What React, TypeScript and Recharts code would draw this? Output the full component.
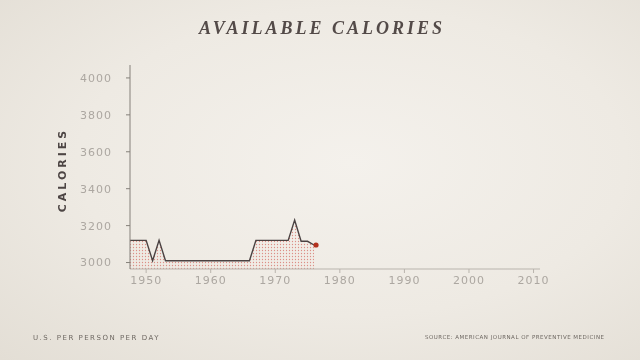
import React from "react";
import { Area, ComposedChart, Line, XAxis, YAxis } from "recharts";

// per-year available calories (animation frame stops mid-1970s)
const years = [
  1947, 1948, 1949, 1950, 1951, 1952, 1953, 1954, 1955, 1956, 1957, 1958, 1959, 1960, 1961,
  1962, 1963, 1964, 1965, 1966, 1967, 1968, 1969, 1970, 1971, 1972, 1973, 1974, 1975, 1976,
];
const calories = [
  3120, 3120, 3120, 3120, 3010, 3120, 3010, 3010, 3010, 3010, 3010, 3010, 3010, 3010, 3010,
  3010, 3010, 3010, 3010, 3010, 3120, 3120, 3120, 3120, 3120, 3120, 3230, 3115, 3115, 3095,
];
const yearTicks = [1950, 1960, 1970, 1980, 1990, 2000, 2010];
const calorieTicks = [3000, 3200, 3400, 3600, 3800, 4000];

const data = years.map((year, i) => ({ year, calories: calories[i] }));

const Y_MIN = 2965;
const Y_MAX = 4070;

const tickStyle = {
  fontSize: 11,
  fill: "#aca7a1",
  fontFamily: "DejaVu Sans",
  letterSpacing: 1,
};

const LastDot = (props: any) => {
  const { cx, cy, index } = props;
  if (index !== data.length - 1) return null;
  return <circle cx={cx + 2} cy={cy} r={2.6} fill="#b3321f" />;
};

export default function App() {
  return (
    <div
      style={{
        position: "fixed",
        left: 0,
        top: 0,
        width: 640,
        height: 360,
        background: "radial-gradient(ellipse at 55% 45%, #f4f1ec 0%, #eeeae3 55%, #e3ded5 100%)",
        overflow: "hidden",
      }}
    >
      <div
        style={{
          position: "absolute",
          top: 18,
          left: 2,
          width: 640,
          textAlign: "center",
          fontFamily: "Liberation Serif",
          fontStyle: "italic",
          fontWeight: "bold",
          fontSize: 18,
          letterSpacing: 3,
          color: "#534a48",
        }}
      >
        AVAILABLE CALORIES
      </div>
      <div
        style={{
          position: "absolute",
          left: 62,
          top: 170,
          transform: "translate(-50%, -50%) rotate(-90deg)",
          fontFamily: "DejaVu Sans",
          fontWeight: "bold",
          fontSize: 11,
          letterSpacing: 3,
          color: "#4d4544",
          whiteSpace: "nowrap",
        }}
      >
        CALORIES
      </div>
      <ComposedChart
        width={640}
        height={360}
        data={data}
        margin={{ top: 65, right: 100, left: 70, bottom: 66 }}
      >
        <defs>
          <pattern id="dots" width="3" height="3" patternUnits="userSpaceOnUse">
            <circle cx="1.5" cy="1.5" r="0.65" fill="#dc8f86" />
          </pattern>
        </defs>
        <XAxis
          dataKey="year"
          type="number"
          domain={[1947.5, 2011]}
          allowDataOverflow
          ticks={yearTicks}
          stroke="#b9b4ad"
          tickSize={4}
          tickMargin={3}
          tick={tickStyle}
          height={25}
        />
        <YAxis
          type="number"
          domain={[Y_MIN, Y_MAX]}
          allowDataOverflow
          ticks={calorieTicks}
          stroke="#85807a"
          tickSize={4}
          tickMargin={14}
          tick={tickStyle}
          width={60}
        />
        <Area
          dataKey="calories"
          baseValue={Y_MIN}
          type="linear"
          stroke="none"
          fill="url(#dots)"
          fillOpacity={1}
          isAnimationActive={false}
        />
        <Line
          dataKey="calories"
          type="linear"
          stroke="#4a4242"
          strokeWidth={1.4}
          dot={<LastDot />}
          activeDot={false}
          isAnimationActive={false}
        />
      </ComposedChart>
      <div
        style={{
          position: "absolute",
          left: 33,
          top: 334,
          fontFamily: "DejaVu Sans",
          fontSize: 7,
          letterSpacing: 1.5,
          color: "#6e6862",
          whiteSpace: "nowrap",
        }}
      >
        U.S. PER PERSON PER DAY
      </div>
      <div
        style={{
          position: "absolute",
          left: 425,
          top: 334,
          fontFamily: "DejaVu Sans",
          fontSize: 5.5,
          letterSpacing: 0.5,
          color: "#6e6862",
          whiteSpace: "nowrap",
        }}
      >
        SOURCE: AMERICAN JOURNAL OF PREVENTIVE MEDICINE
      </div>
    </div>
  );
}
